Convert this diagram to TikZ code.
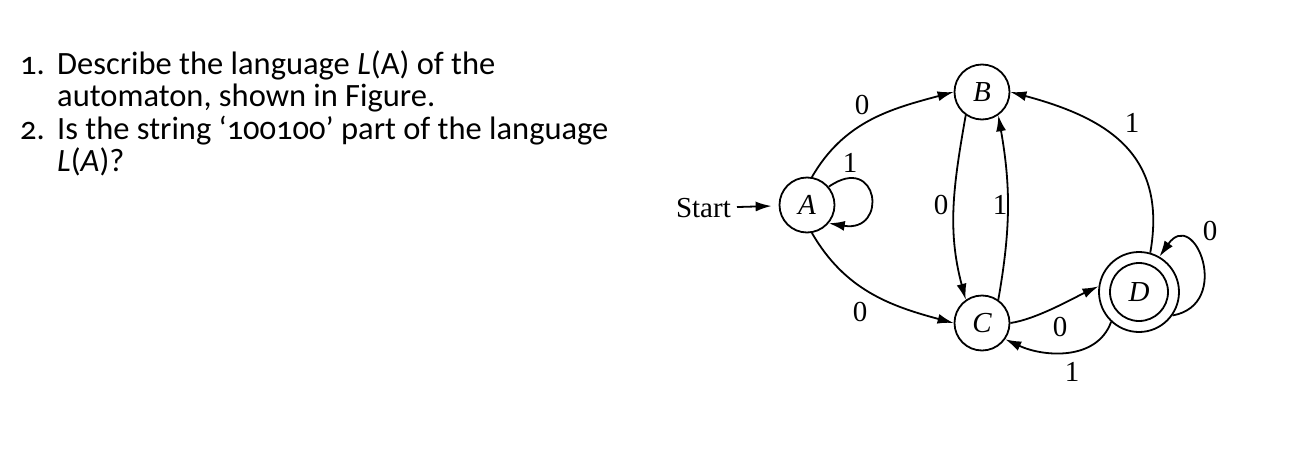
\documentclass[tikz,border=0pt]{standalone}
\usepackage{fontspec}
\setmainfont{Liberation Serif}
\newfontfamily\qfont[Numbers=OldStyle]{Carlito}
\usetikzlibrary{arrows.meta}
\begin{document}
\begin{tikzpicture}[x=1pt,y=1pt,
  state/.style={draw,circle,line width=1.8pt,minimum size=55pt,inner sep=0pt,font=\fontsize{29}{29}\selectfont\itshape},
  edge/.style={line width=1.8pt,-{Latex[length=16pt,width=10pt]}},
  lbl/.style={font=\fontsize{29}{29}\selectfont,inner sep=0pt},
  qtext/.style={anchor=base west,inner sep=0pt,font=\qfont\fontsize{32.5}{32.5}\selectfont}]
\useasboundingbox (0,0) rectangle (1315,-466);
% question text
\node[qtext] (n1) at (20,-74) {1.};
\node[qtext] (t1) at (57,-74) {Describe the language \textit{L}(A) of the};
\node[qtext] (t2) at (57,-106) {automaton, shown in Figure.};
\node[qtext] (n2) at (20,-139) {2.};
\node[qtext] (t3) at (57,-139) {Is the string ‘100100’ part of the language};
\node[qtext] (t4) at (57,-171) {\textit{L}(\textit{A})?};
% states
\node[state] (A) at (807,-205) {A};
\node[state] (B) at (982,-92) {B};
\node[state] (C) at (982,-323) {C};
\node[state,minimum size=80pt] (D) at (1139,-292) {};
\node[state,minimum size=58pt] (Di) at (1139,-292) {D};
\node[lbl,anchor=east] (start) at (731,-208) {Start};
% edges
\draw[edge,shorten <=6pt,shorten >=7pt] (start) -- (A);
\draw[edge] (A.80) to[out=60,in=195] (B.180);
\draw[edge] (A.-80) to[out=-60,in=165] (C.180);
\draw[edge] (A.40) .. controls +(50,35) and +(60,-10) .. (A.-40);
\draw[edge] (B.235) to[out=260,in=105] (C.125);
\draw[edge] (C.55) to[out=80,in=280] (B.-55);
\draw[edge] (D.74) to[out=80,in=-15,looseness=1.2] (B.0);
\draw[edge] (C.0) to[out=8,in=205,looseness=0.7] (D.172);
\draw[edge] (D.227) to[out=250,in=-25] (C.-35);
\draw[edge] (D.-35) to[out=10,in=55,looseness=2.6] (D.60);
% labels
\node[lbl] (l1) at (862,-105) {0};
\node[lbl] (l2) at (850,-163) {1};
\node[lbl] (l3) at (860,-312) {0};
\node[lbl] (l4) at (941,-205) {0};
\node[lbl] (l5) at (1000,-205) {1};
\node[lbl] (l6) at (1132,-123) {1};
\node[lbl] (l7) at (1060,-327) {0};
\node[lbl] (l8) at (1072,-372) {1};
\node[lbl] (l9) at (1210,-231) {0};
\end{tikzpicture}
\end{document}
